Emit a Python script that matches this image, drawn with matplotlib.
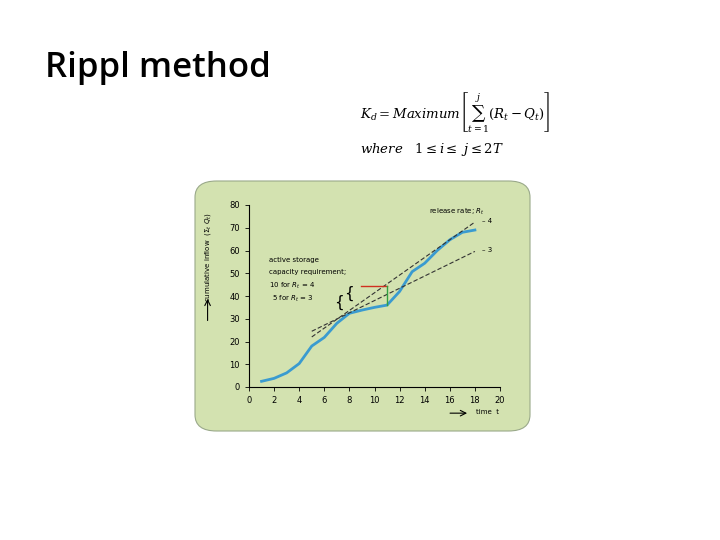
import matplotlib
matplotlib.use("Agg")
import matplotlib.pyplot as plt
from matplotlib.patches import FancyBboxPatch

# cumulative inflow
t = [1, 2, 3, 4, 5, 6, 7, 8, 9, 10, 11, 12, 13, 14, 15, 16, 17, 18]
cum_inflow = [2.5, 3.8, 6.2, 10.3, 18, 21.8, 28, 32.4, 33.8, 35, 36, 42, 50.7, 54.4, 60, 64.7, 68, 69]
# release-rate tangent lines (start/end)
r4_x = [5, 18]
r4_y = [22, 72.5]
r3_x = [5, 18]
r3_y = [24.5, 59.6]
x_ticks = [0, 2, 4, 6, 8, 10, 12, 14, 16, 18, 20]
y_ticks = [0, 10, 20, 30, 40, 50, 60, 70, 80]
x_labels = ["0", "2", "4", "6", "8", "10", "12", "14", "16", "18", "20"]

fig = plt.figure(figsize=(7.2, 5.4), dpi=100)
fig.patch.set_facecolor("white")

fig.text(45 / 720, 1 - 68 / 540, "Rippl method", fontsize=25, fontweight="semibold",
         family="Open Sans", va="center", ha="left")
fig.text(360 / 720, 1 - 112 / 540,
         r"$K_d = Maximum\left[\sum_{t=1}^{j}(R_t - Q_t)\right]$",
         fontsize=9.5, va="center", ha="left", math_fontfamily="dejavuserif")
fig.text(360 / 720, 1 - 149 / 540, r"$where\quad 1 \leq i \leq\ j \leq 2T$",
         fontsize=9.5, va="center", ha="left", math_fontfamily="dejavuserif")

green = "#d3e2b0"
box = FancyBboxPatch((195 / 720, 1 - 431 / 540), 335 / 720, 250 / 540,
                     boxstyle="round,pad=0,rounding_size=0.03", transform=fig.transFigure,
                     facecolor=green, edgecolor="#9aa98a", linewidth=0.8, zorder=-10)
fig.patches.append(box)

ax = fig.add_axes([249 / 720, 1 - 387 / 540, 251 / 720, 182 / 540])
ax.set_zorder(5)
ax.set_facecolor("none")
ax.plot(t, cum_inflow, color="#3a9bd0", linewidth=2)
ax.plot(r4_x, r4_y, color="#333333", linestyle="--", linewidth=0.8, dashes=(4, 2))
ax.plot(r3_x, r3_y, color="#333333", linestyle="--", linewidth=0.8, dashes=(4, 2))
ax.plot([8.9, 11], [44.5, 44.5], color="#d03020", linewidth=1)
ax.plot([11, 11], [36, 44.5], color="#30a040", linewidth=1)

ax.set_xlim(0, 20)
ax.set_ylim(0, 80)
ax.set_xticks(x_ticks)
ax.set_xticklabels(x_labels)
ax.set_yticks(y_ticks)
for s in ["top", "right"]:
    ax.spines[s].set_visible(False)
ax.tick_params(labelsize=6, length=3, width=0.6, direction="out")
for s in ["left", "bottom"]:
    ax.spines[s].set_linewidth(0.8)

fs = 5
ax.text(18.8, 76, r"release rate; $R_t$", fontsize=fs, ha="right")
ax.text(18.6, 72, "– 4", fontsize=fs)
ax.text(18.6, 59.5, "– 3", fontsize=fs)
ax.text(1.6, 55, "active storage", fontsize=fs)
ax.text(1.6, 49.5, "capacity requirement;", fontsize=fs)
ax.text(1.6, 43.5, r"10 for $R_t$ = 4", fontsize=fs)
ax.text(1.8, 38, r"5 for $R_t$ = 3", fontsize=fs)
ax.text(6.8, 37, "{", fontsize=11, va="center")
ax.text(7.6, 41, "{", fontsize=11, va="center")
ax.text(19.9, -12, "time  t", fontsize=fs, ha="right", clip_on=False)
ax.annotate("", xy=(17.6, -11.5), xytext=(15.8, -11.5),
            arrowprops=dict(arrowstyle="->", lw=0.8), annotation_clip=False)
ax.text(-3.3, 57, r"cumulative inflow  ($\Sigma_t\ Q_t$)", fontsize=fs, rotation=90,
        va="center", ha="center", clip_on=False)
ax.annotate("", xy=(-3.3, 40), xytext=(-3.3, 28),
            arrowprops=dict(arrowstyle="->", lw=0.8), annotation_clip=False)

fig.savefig("out.png", dpi=100)
